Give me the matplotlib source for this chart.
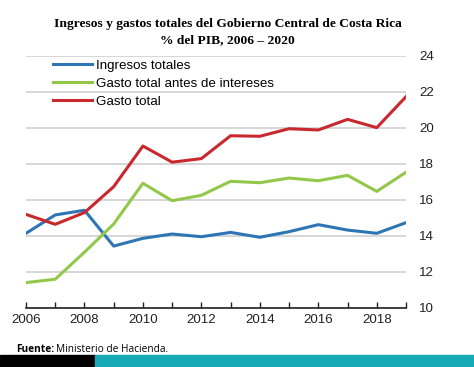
import matplotlib
matplotlib.use("Agg")
import matplotlib.pyplot as plt
from matplotlib.patches import Rectangle

years = list(range(2006, 2020))
ingresos = [14.15, 15.17, 15.43, 13.44, 13.87, 14.11, 13.96, 14.20, 13.93, 14.24, 14.63, 14.33, 14.15, 14.74]
gasto_primario = [11.41, 11.60, 13.10, 14.67, 16.93, 15.96, 16.26, 17.04, 16.96, 17.22, 17.07, 17.37, 16.48, 17.54]
gasto_total = [15.20, 14.65, 15.30, 16.74, 19.00, 18.10, 18.30, 19.57, 19.54, 19.96, 19.89, 20.48, 20.02, 21.74]
labels = ["Ingresos totales", "Gasto total antes de intereses", "Gasto total"]
title1 = "Ingresos y gastos totales del Gobierno Central de Costa Rica"
title2 = "% del PIB, 2006 \u2013 2020"
yticks = [10, 12, 14, 16, 18, 20, 22, 24]
xticks = [2006, 2008, 2010, 2012, 2014, 2016, 2018]

plt.rcParams["font.family"] = ["Liberation Sans", "DejaVu Sans"]
FS = 9.6

W, H = 474, 367
fig = plt.figure(figsize=(W / 100, H / 100), dpi=100)
ax = fig.add_axes([26 / W, 1 - 308 / H, (406 - 26) / W, (308 - 56) / H])

ax.plot(years, ingresos, color="#2E75B6", lw=2.2, label=labels[0])
ax.plot(years, gasto_primario, color="#92C84A", lw=2.2, label=labels[1])
ax.plot(years, gasto_total, color="#C8282E", lw=2.2, label=labels[2])

ax.set_xlim(2006, 2019)
ax.set_ylim(10, 24)
ax.set_yticks(yticks)
ax.yaxis.tick_right()
ax.tick_params(axis="y", length=0, pad=9.5, labelsize=FS, labelcolor="#222222")
ax.grid(axis="y", color="#CFCFCF", lw=1.2)
ax.set_axisbelow(True)
ax.set_xticks(years, minor=False)
ax.set_xticklabels([str(y) if y in xticks else "" for y in years])
ax.tick_params(axis="x", direction="in", length=4, width=1, color="#222222",
               labelsize=FS, pad=4.5, labelcolor="#222222")
for s in ["top", "right", "left"]:
    ax.spines[s].set_visible(False)
ax.spines["bottom"].set_color("#222222")
ax.spines["bottom"].set_linewidth(1.2)

leg = ax.legend(loc="upper left", bbox_to_anchor=(0.07, 0.985), frameon=False,
                fontsize=FS, handlelength=2.95, handletextpad=0.3,
                labelspacing=0.42, borderaxespad=0, borderpad=0)

fig.text(0.48, 1 - 24 / H, title1, ha="center", va="center",
         family="Liberation Serif", weight="bold", fontsize=9.7)
fig.text(0.48, 1 - 40 / H, title2, ha="center", va="center",
         family="Liberation Serif", weight="bold", fontsize=9.7)

fig.text(16 / W, 1 - 349 / H, "Fuente:", ha="left", va="center",
         fontsize=7.3, weight="bold", family="Open Sans")
fig.text(56 / W, 1 - 349 / H, "Ministerio de Hacienda.", ha="left", va="center",
         fontsize=7.3, family="Open Sans")

fig.patches.append(Rectangle((0, 0), 95 / W, 12 / H, transform=fig.transFigure,
                             color="black", zorder=5))
fig.patches.append(Rectangle((95 / W, 0), 1 - 95 / W, 12 / H, transform=fig.transFigure,
                             color="#17A9B6", zorder=5))

fig.savefig("out.png", dpi=100)
